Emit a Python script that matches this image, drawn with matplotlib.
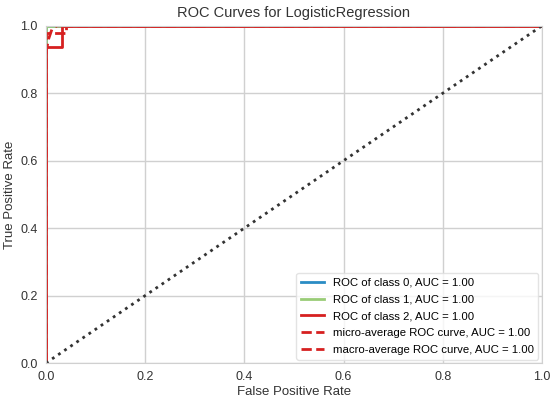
import numpy as np
import matplotlib
matplotlib.use("Agg")
import matplotlib.pyplot as plt

plt.rcParams["font.family"] = ["Liberation Sans", "DejaVu Sans"]

# ROC curves
fpr_0 = [0.0, 0.0, 1.0]
tpr_0 = [0.0, 1.0, 1.0]
fpr_1 = [0.0, 0.0, 1.0]
tpr_1 = [0.0, 1.0, 1.0]
fpr_2 = [0.0, 0.0, 0.032, 0.032, 1.0]
tpr_2 = [0.0, 0.938, 0.938, 1.0, 1.0]
fpr_micro = [0.0, 0.0, 0.005, 0.012, 0.022, 1.0]
tpr_micro = [0.0, 0.92, 0.96, 0.99, 1.0, 1.0]
fpr_macro = [0.0, 0.0, 0.04, 0.04, 1.0]
tpr_macro = [0.0, 0.979, 0.979, 1.0, 1.0]
auc_vals = [1.00, 1.00, 1.00]
auc_micro = 1.00
auc_macro = 1.00

colors = ["#2a8cc4", "#99cc77", "#d62020"]

fig = plt.figure(figsize=(5.51, 4.0), dpi=100)
ax = fig.add_axes([0.0835, 0.0925, 0.9, 0.843])

ax.plot(fpr_0, tpr_0, color=colors[0], lw=2, label="ROC of class 0, AUC = %.2f" % auc_vals[0])
ax.plot(fpr_1, tpr_1, color=colors[1], lw=2, label="ROC of class 1, AUC = %.2f" % auc_vals[1])
ax.plot(fpr_2, tpr_2, color=colors[2], lw=2, label="ROC of class 2, AUC = %.2f" % auc_vals[2])
ax.plot(fpr_micro, tpr_micro, color=colors[2], lw=2, ls="--",
        label="micro-average ROC curve, AUC = %.2f" % auc_micro)
ax.plot(fpr_macro, tpr_macro, color=colors[2], lw=2, ls="--",
        label="macro-average ROC curve, AUC = %.2f" % auc_macro)

# diagonal
ax.plot([0, 1], [0, 1], ls=":", color="#333333", lw=2)

ax.set_xlim(0, 1)
ax.set_ylim(0, 1)
ax.set_xticks(np.arange(0, 1.01, 0.2))
ax.set_yticks(np.arange(0, 1.01, 0.2))
ax.grid(True, color="#d0d0d0", lw=1)
ax.set_axisbelow(True)
for s in ax.spines.values():
    s.set_color("#d0d0d0")
ax.tick_params(length=0, labelsize=9, colors="#333333", pad=6)

ax.set_title("ROC Curves for LogisticRegression", fontsize=10.5, color="#333333")
ax.set_xlabel("False Positive Rate", fontsize=9.5, color="#333333", labelpad=2)
ax.set_ylabel("True Positive Rate", fontsize=9.5, color="#333333", labelpad=3)

leg = ax.legend(loc="lower right", fontsize=8.2, frameon=True, handlelength=2.0,
                borderaxespad=0.3, labelspacing=0.6)
leg.get_frame().set_edgecolor("#dddddd")

fig.savefig("out.png", dpi=100)
